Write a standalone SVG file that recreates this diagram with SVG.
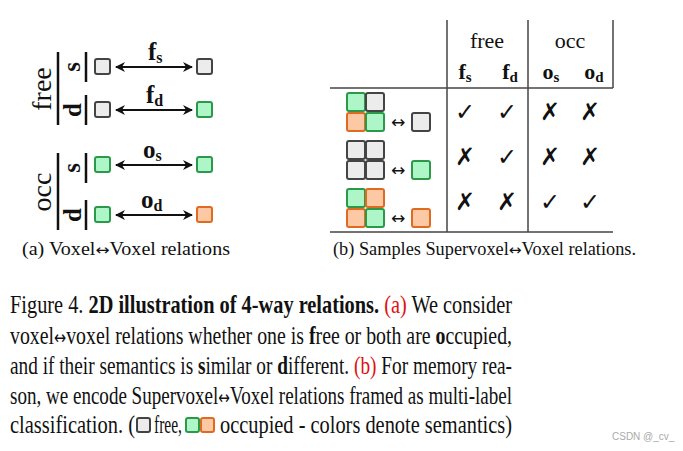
<svg xmlns="http://www.w3.org/2000/svg" width="683" height="451" viewBox="0 0 683 451">
<style>
text{font-family:"Liberation Serif","Times New Roman",serif;fill:#111}
.g{fill:#ececec;stroke:#444;stroke-width:2}
.gr{fill:#aef5c8;stroke:#2a9a4a;stroke-width:2}
.o{fill:#fcc9a4;stroke:#e06a20;stroke-width:2}
.bar{stroke:#111;stroke-width:2.5}
.ln{stroke:#444;stroke-width:1.5}
.ar{stroke:#111;stroke-width:2;marker-start:url(#ah);marker-end:url(#ah)}
.m{font-family:"DejaVu Sans",sans-serif;font-size:24px;text-anchor:middle}
.lr{font-family:"DejaVu Sans",sans-serif}
</style>
<defs><marker id="ah" viewBox="0 0 10 10" refX="9" refY="5" markerWidth="5" markerHeight="5" orient="auto-start-reverse"><path d="M0,0 L10,5 L0,10 L3,5z" fill="#111"/></marker></defs>
<rect width="683" height="451" fill="#fff"/>
<g id="left-labels">
<line class="bar" x1="58" y1="52" x2="58" y2="125"/>
<line class="bar" x1="86" y1="52" x2="86" y2="82"/>
<line class="bar" x1="86" y1="95" x2="86" y2="125"/>
<line class="bar" x1="58" y1="153" x2="58" y2="230"/>
<line class="bar" x1="86" y1="153" x2="86" y2="183"/>
<line class="bar" x1="86" y1="200" x2="86" y2="230"/>
<text transform="translate(51,89) rotate(-90)" font-size="28" text-anchor="middle">free</text>
<text transform="translate(80,67) rotate(-90)" font-size="25" text-anchor="middle" font-weight="bold">s</text>
<text transform="translate(81,110) rotate(-90)" font-size="25" text-anchor="middle" font-weight="bold">d</text>
<text transform="translate(51,192) rotate(-90)" font-size="28" text-anchor="middle">occ</text>
<text transform="translate(80,168) rotate(-90)" font-size="25" text-anchor="middle" font-weight="bold">s</text>
<text transform="translate(81,215) rotate(-90)" font-size="25" text-anchor="middle" font-weight="bold">d</text>
</g>
<g id="voxels-a">
<rect class="g" x="95" y="59" width="15" height="15" rx="2"/><rect class="g" x="197" y="59" width="15" height="15" rx="2"/>
<rect class="g" x="95" y="102" width="15" height="15" rx="2"/><rect class="gr" x="197" y="102" width="15" height="15" rx="2"/>
<rect class="gr" x="95" y="157" width="15" height="15" rx="2"/><rect class="gr" x="197" y="157" width="15" height="15" rx="2"/>
<rect class="gr" x="95" y="207" width="15" height="15" rx="2"/><rect class="o" x="197" y="207" width="15" height="15" rx="2"/>
</g>
<g id="connectors">
<line class="ar" x1="116" y1="67" x2="192" y2="67"/>
<line class="ar" x1="116" y1="110" x2="192" y2="110"/>
<line class="ar" x1="116" y1="165" x2="192" y2="165"/>
<line class="ar" x1="116" y1="215" x2="192" y2="215"/>
</g>
<g id="arrow-labels">
<text x="148" y="60" font-size="25" font-weight="bold">f<tspan font-size="16" dy="3">s</tspan></text>
<text x="146" y="103" font-size="25" font-weight="bold">f<tspan font-size="16" dy="3">d</tspan></text>
<text x="143" y="158" font-size="25" font-weight="bold">o<tspan font-size="16" dy="3">s</tspan></text>
<text x="141" y="208" font-size="25" font-weight="bold">o<tspan font-size="16" dy="3">d</tspan></text>
</g>
<text x="22" y="255" font-size="18" textLength="208" lengthAdjust="spacingAndGlyphs">(a) Voxel<tspan class="lr" font-size="15">↔</tspan>Voxel relations</text>
<g id="table">
<line class="ln" x1="447" y1="20" x2="447" y2="232"/>
<line class="ln" x1="528" y1="20" x2="528" y2="232"/>
<line class="ln" x1="613" y1="20" x2="613" y2="88"/>
<line class="ln" x1="330" y1="88" x2="613" y2="88"/>
<line class="ln" x1="330" y1="232" x2="613" y2="232"/>
<text x="487" y="48" font-size="22" text-anchor="middle">free</text>
<text x="570" y="48" font-size="22" text-anchor="middle">occ</text>
<text x="465" y="79" font-size="22" font-weight="bold" text-anchor="middle">f<tspan font-size="15" dy="3">s</tspan></text>
<text x="510" y="79" font-size="22" font-weight="bold" text-anchor="middle">f<tspan font-size="15" dy="3">d</tspan></text>
<text x="551" y="79" font-size="22" font-weight="bold" text-anchor="middle">o<tspan font-size="15" dy="3">s</tspan></text>
<text x="594" y="79" font-size="22" font-weight="bold" text-anchor="middle">o<tspan font-size="15" dy="3">d</tspan></text>
<text class="m" x="465" y="120">✓</text><text class="m" x="507" y="120">✓</text><text class="m" x="550" y="120">✗</text><text class="m" x="590" y="120">✗</text>
<text class="m" x="465" y="165">✗</text><text class="m" x="507" y="165">✓</text><text class="m" x="550" y="165">✗</text><text class="m" x="590" y="165">✗</text>
<text class="m" x="465" y="210">✗</text><text class="m" x="507" y="210">✗</text><text class="m" x="550" y="210">✓</text><text class="m" x="590" y="210">✓</text>
</g>
<g id="row1">
<rect class="gr" x="347" y="93" width="18" height="18" rx="2"/><rect class="g" x="366" y="93" width="18" height="18" rx="2"/>
<rect class="o" x="347" y="113" width="18" height="18" rx="2"/><rect class="gr" x="366" y="113" width="18" height="18" rx="2"/>
<text class="lr" x="398" y="128" font-size="17" text-anchor="middle" fill="#444">↔</text>
<rect class="g" x="412" y="113" width="18" height="18" rx="2"/>
</g>
<g id="row2">
<rect class="g" x="347" y="141" width="18" height="18" rx="2"/><rect class="g" x="366" y="141" width="18" height="18" rx="2"/>
<rect class="g" x="347" y="161" width="18" height="18" rx="2"/><rect class="g" x="366" y="161" width="18" height="18" rx="2"/>
<text class="lr" x="398" y="176" font-size="17" text-anchor="middle" fill="#444">↔</text>
<rect class="gr" x="412" y="161" width="18" height="18" rx="2"/>
</g>
<g id="row3">
<rect class="gr" x="347" y="189" width="18" height="18" rx="2"/><rect class="o" x="366" y="189" width="18" height="18" rx="2"/>
<rect class="o" x="347" y="209" width="18" height="18" rx="2"/><rect class="gr" x="366" y="209" width="18" height="18" rx="2"/>
<text class="lr" x="398" y="224" font-size="17" text-anchor="middle" fill="#444">↔</text>
<rect class="o" x="412" y="209" width="18" height="18" rx="2"/>
</g>
<text x="333" y="255" font-size="18" textLength="303" lengthAdjust="spacingAndGlyphs">(b) Samples Supervoxel<tspan class="lr" font-size="15">↔</tspan>Voxel relations.</text>
<g id="caption" font-size="26">
<text x="10" y="313" textLength="502" lengthAdjust="spacingAndGlyphs">Figure 4.  <tspan font-weight="bold">2D illustration of 4-way relations.</tspan>  <tspan fill="#e01010">(a)</tspan> We consider</text>
<text x="10" y="344" textLength="502" lengthAdjust="spacingAndGlyphs">voxel<tspan class="lr" font-size="19">↔</tspan>voxel relations whether one is <tspan font-weight="bold">f</tspan>ree or both are <tspan font-weight="bold">o</tspan>ccupied,</text>
<text x="10" y="374" textLength="502" lengthAdjust="spacingAndGlyphs">and if their semantics is <tspan font-weight="bold">s</tspan>imilar or <tspan font-weight="bold">d</tspan>ifferent. <tspan fill="#e01010">(b)</tspan> For memory rea-</text>
<text x="10" y="404" textLength="502" lengthAdjust="spacingAndGlyphs">son, we encode Supervoxel<tspan class="lr" font-size="19">↔</tspan>Voxel relations framed as multi-label</text>
<text x="10" y="433" textLength="125" lengthAdjust="spacingAndGlyphs">classification. (</text>
<rect class="g" x="137" y="418" width="13" height="14" rx="2"/>
<text x="154" y="433" textLength="28" lengthAdjust="spacingAndGlyphs">free,</text>
<rect class="gr" x="186" y="418" width="13" height="14" rx="2"/>
<rect class="o" x="201" y="418" width="13" height="14" rx="2"/>
<text x="220" y="433" textLength="292" lengthAdjust="spacingAndGlyphs">occupied - colors denote semantics)</text>
</g>
<text x="612" y="440" font-size="10" style="font-family:'Liberation Sans',sans-serif;fill:#aaa">CSDN @_cv_</text>
</svg>
